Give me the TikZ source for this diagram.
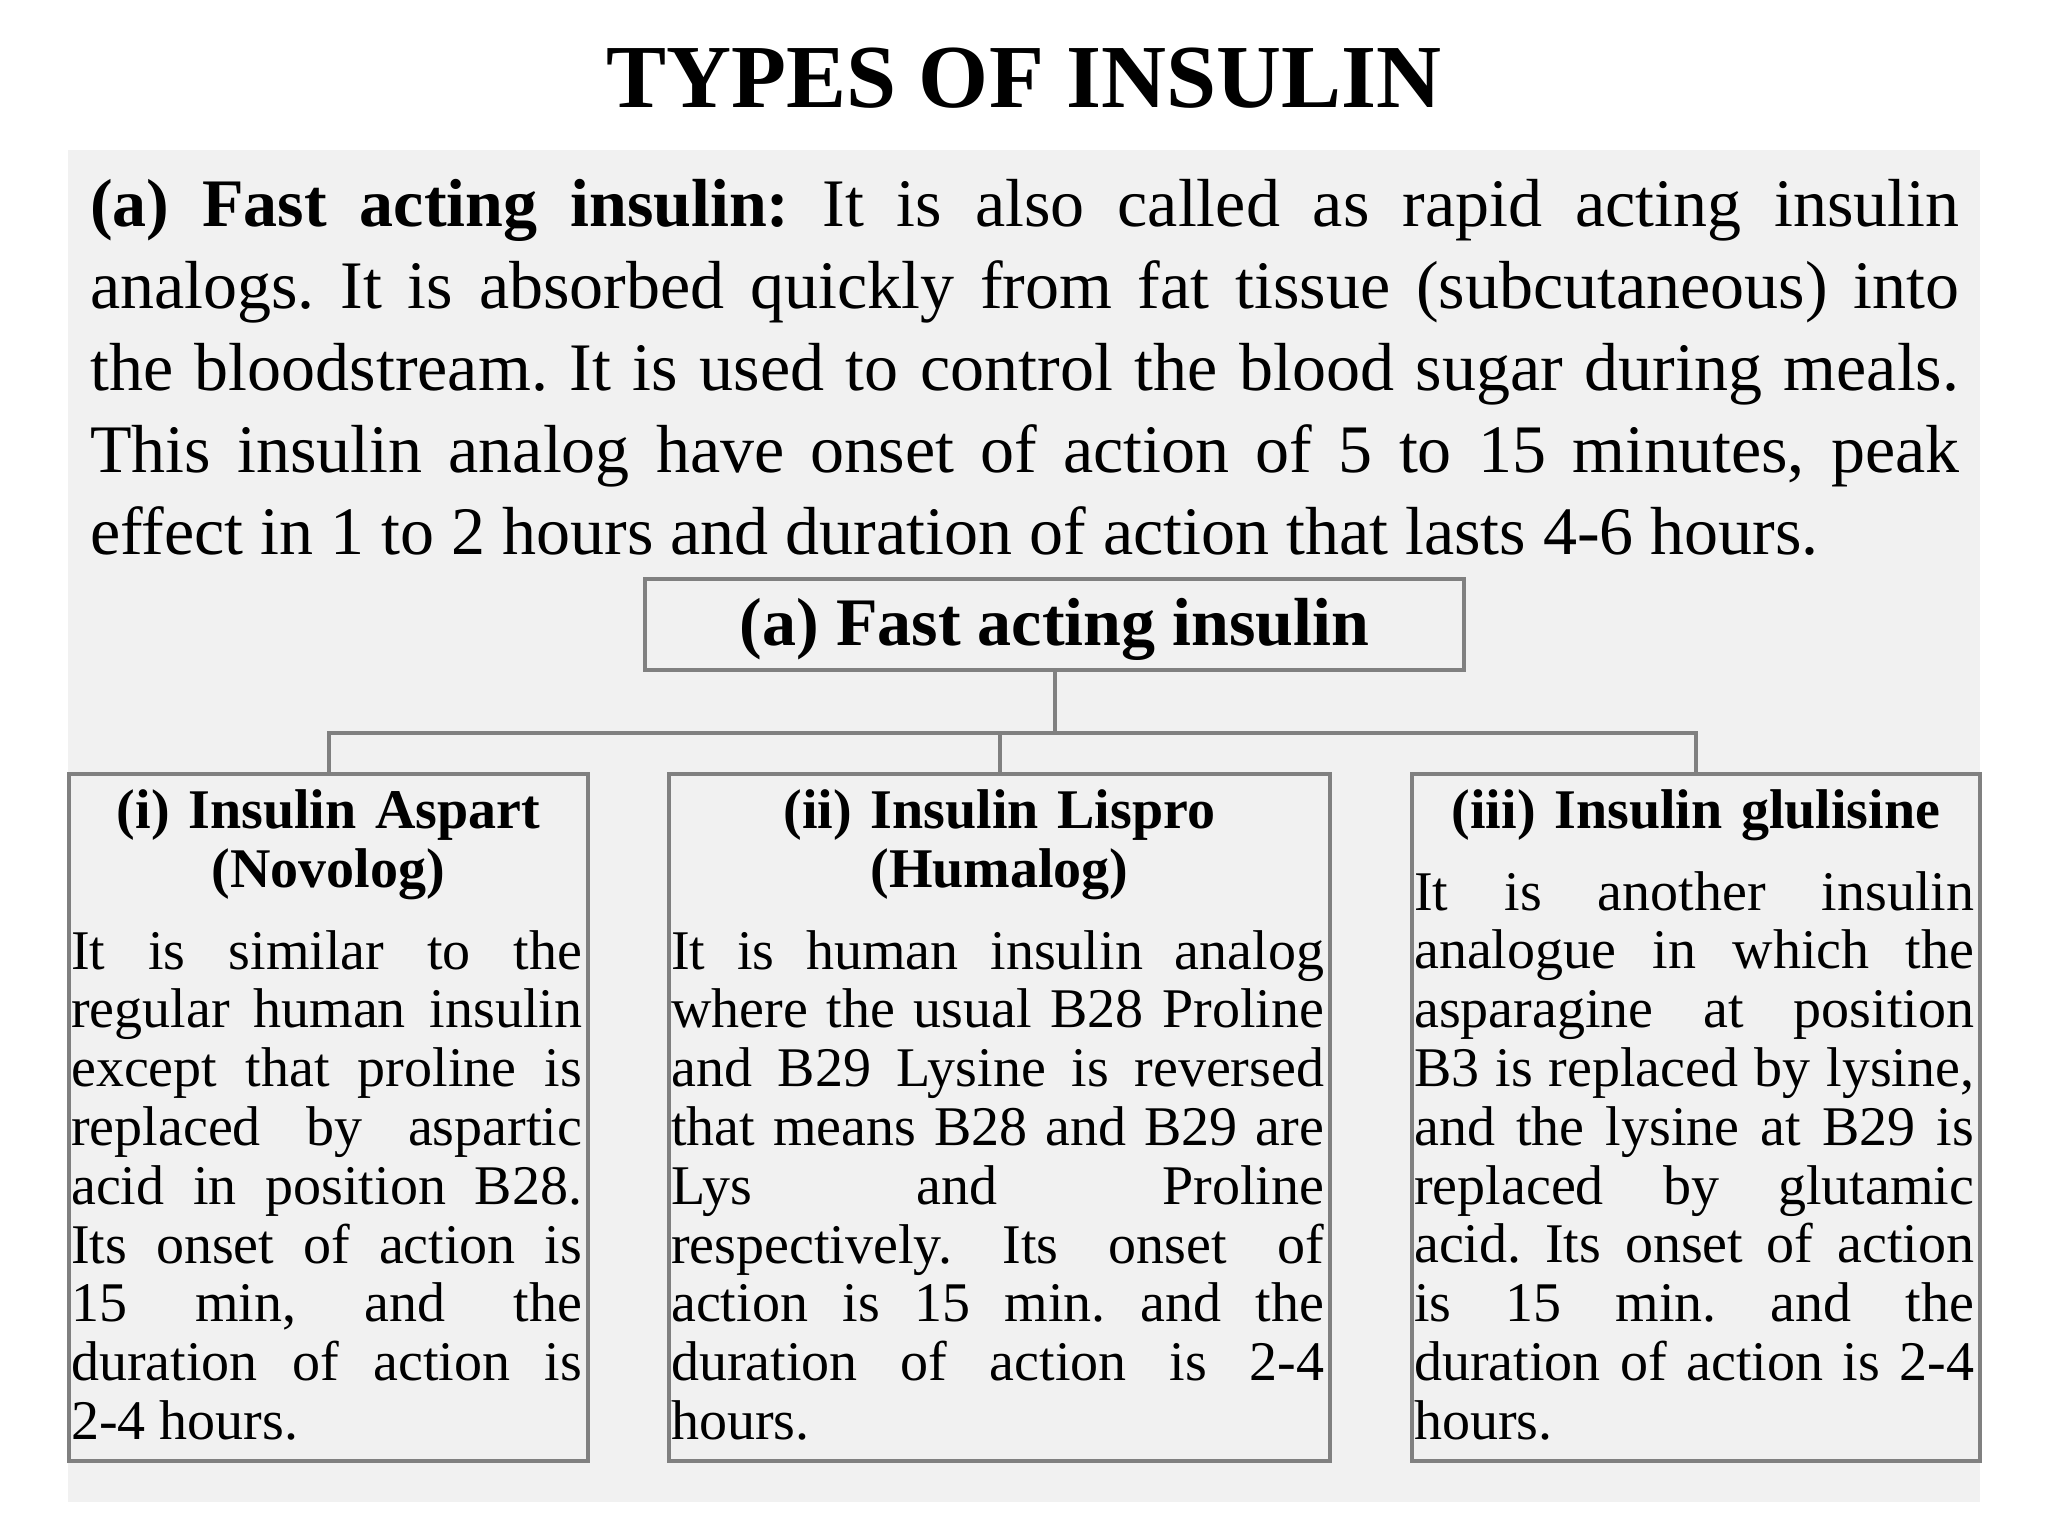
\documentclass[tikz,border=0pt]{standalone}
\usepackage{fontspec}
\setmainfont{Liberation Serif}
\usepackage{tikz}
\usetikzlibrary{calc}
\definecolor{panelgray}{RGB}{241,241,241}
\definecolor{linegray}{RGB}{128,128,128}
\tolerance=10000
\hbadness=10000
\frenchspacing
\tikzstyle{typebox}=[draw=linegray,line width=4pt,fill=panelgray,inner sep=0pt]
\tikzstyle{link}=[draw=linegray,line width=4pt]
\tikzstyle{boxhead}=[inner sep=0pt,align=center,font=\fontsize{56}{59}\selectfont\bfseries]
\tikzstyle{boxbody}=[inner sep=0pt,align=justify,font=\fontsize{56}{58.8}\selectfont]

\begin{document}
\begin{tikzpicture}[x=1pt,y=-1pt]
		\useasboundingbox (0,0) rectangle (2048,1536);
		\node[anchor=base,font=\fontsize{90}{100}\selectfont\bfseries] (title) at (1024,108) {TYPES OF INSULIN};
		\fill[panelgray] (68,150) rectangle (1980,1502);
		% intro paragraph
		\node[anchor=base west,inner sep=0pt,text width=1869pt,align=justify,font=\fontsize{68}{82}\selectfont] (intro) at (90,226)
			{\textbf{(a) Fast acting insulin:} It is also called as rapid acting insulin\linebreak
			analogs. It is absorbed quickly from fat tissue (subcutaneous) into\linebreak
			the bloodstream. It is used to control the blood sugar during meals.\linebreak
			This insulin analog have onset of action of 5 to 15 minutes, peak\linebreak
			effect in 1 to 2 hours and duration of action that lasts 4-6 hours.};
		\node[typebox,anchor=base,minimum width=819pt,text height=66pt,text depth=25pt,
			font=\fontsize{68}{82}\selectfont\bfseries] (fast) at (1054.5,645) {(a) Fast acting insulin};
		% three boxes
		\node[typebox,minimum width=519pt,minimum height=687pt] (aspart) at (328.5,1117.5) {};
		\node[typebox,minimum width=661pt,minimum height=687pt] (lispro) at (999.5,1117.5) {};
		\node[typebox,minimum width=568pt,minimum height=687pt] (glulisine) at (1696,1117.5) {};
		\coordinate (bus) at (1055,733);
		\draw[link] (fast.south)--(fast.south |- bus);
		\draw[link] (aspart.north)--(aspart.north |- bus)--(glulisine.north |- bus)--(glulisine.north);
		\draw[link] (lispro.north)--(lispro.north |- bus);
		\node[boxhead,text width=511pt,anchor=base] (aspartH) at ($(aspart.north)+(0,56)$)
			{(i) Insulin Aspart\\(Novolog)};
		\node[boxhead,text width=653pt,anchor=base] (lisproH) at ($(lispro.north)+(0,56)$)
			{(ii) Insulin Lispro\\(Humalog)};
		\node[boxhead,text width=560pt,anchor=base] (glulisineH) at ($(glulisine.north)+(0,56)$)
			{(iii) Insulin glulisine};
		\node[boxbody,text width=511pt,anchor=base west] (aspartT) at ($(aspart.north west)+(4,197)$)
			{It is similar to the\linebreak regular human insulin\linebreak except that proline is\linebreak
			replaced by aspartic\linebreak acid in position B28.\linebreak Its onset of action is\linebreak
			15 min, and the\linebreak duration of action is\linebreak 2-4 hours.};
		\node[boxbody,text width=653pt,anchor=base west] (lisproT) at ($(lispro.north west)+(4,197)$)
			{It is human insulin analog\linebreak where the usual B28 Proline\linebreak and B29 Lysine is reversed\linebreak
			that means B28 and B29 are\linebreak Lys and Proline\linebreak respectively. Its onset of\linebreak
			action is 15 min. and the\linebreak duration of action is 2-4\linebreak hours.};
		\node[boxbody,text width=560pt,anchor=base west] (glulisineT) at ($(glulisine.north west)+(4,138)$)
			{It is another insulin\linebreak analogue in which the\linebreak asparagine at position\linebreak
			B3 is replaced by lysine,\linebreak and the lysine at B29 is\linebreak replaced by glutamic\linebreak
			acid. Its onset of action\linebreak is 15 min. and the\linebreak duration of action is 2-4\linebreak hours.};
\end{tikzpicture}
\end{document}
